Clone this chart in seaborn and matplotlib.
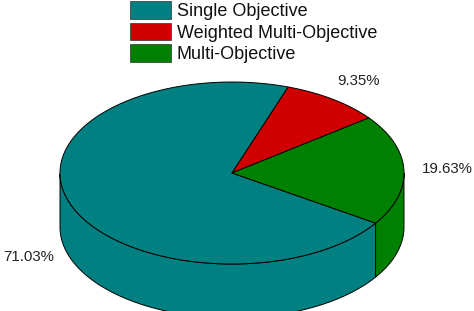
import numpy as np
import matplotlib
matplotlib.use("Agg")
import matplotlib.pyplot as plt
import seaborn as sns
from matplotlib.patches import Polygon, Patch

# ---- data ----
categories = ["Single Objective", "Weighted Multi-Objective", "Multi-Objective"]
shares = [71.03, 9.35, 19.63]
pct_labels = ["71.03%", "9.35%", "19.63%"]
colors = ["#008080", "#D00000", "#008000"]

sns.set_theme(style="white")
plt.rcParams['font.family'] = ['Liberation Sans', 'DejaVu Sans']

W, H = 474, 311
fig = plt.figure(figsize=(W / 100, H / 100), dpi=100)
ax = fig.add_axes([0, 0, 1, 1])
cx_px, cy_px, rx_px = 232, 173, 172
ax.set_xlim(-cx_px / rx_px, (W - cx_px) / rx_px)
ax.set_ylim((cy_px - H) / rx_px, cy_px / rx_px)
ax.axis('off')

tilt = 91 / 172      # vertical squash of the top ellipse
depth = 54 / 172     # cylinder thickness
start = -33.4        # degrees, slices go clockwise
label_r = 1.25
label_drop = 0.87

fr = np.array(shares) / np.sum(shares)
bounds = start - 360 * np.concatenate([[0], np.cumsum(fr)])

edge_kw = dict(edgecolor="black", linewidth=0.7, joinstyle="round")

for i, col in enumerate(colors):
    a0, a1 = bounds[i], bounds[i + 1]
    t = np.radians(np.linspace(a0, a1, 400))
    # side (front half only)
    front = np.sin(t) <= 1e-9
    idx = np.where(front)[0]
    if len(idx):
        runs = np.split(idx, np.where(np.diff(idx) != 1)[0] + 1)
        for r in runs:
            tt = t[r]
            top = np.column_stack([np.cos(tt), tilt * np.sin(tt)])
            bot = np.column_stack([np.cos(tt[::-1]), tilt * np.sin(tt[::-1]) - depth])
            ax.add_patch(Polygon(np.vstack([top, bot]), closed=True,
                                 facecolor=col, zorder=1, **edge_kw))
    # top face
    arc = np.column_stack([np.cos(t), tilt * np.sin(t)])
    ax.add_patch(Polygon(np.vstack([[0, 0], arc]), closed=True,
                         facecolor=col, zorder=2, **edge_kw))
    # label
    m = np.radians((a0 + a1) / 2)
    lx = label_r * np.cos(m)
    ly = label_r * tilt * np.sin(m) - (label_drop * depth if np.sin(m) < 0 else 0)
    ax.text(lx, ly, pct_labels[i], ha="center", va="center",
            fontsize=10.8, color="#222222", zorder=3)

handles = [Patch(facecolor=c, edgecolor="#444444", linewidth=0.6) for c in colors]
fig.legend(handles, categories, loc="upper left",
           bbox_to_anchor=(130 / W, 1.0 - 1 / H), bbox_transform=fig.transFigure,
           frameon=False, fontsize=13, handlelength=2.25, handleheight=1.12,
           handletextpad=0.35, labelspacing=0.15, borderpad=0, borderaxespad=0,
           labelcolor="#111111")

fig.savefig("out.png", dpi=100, facecolor="white")
